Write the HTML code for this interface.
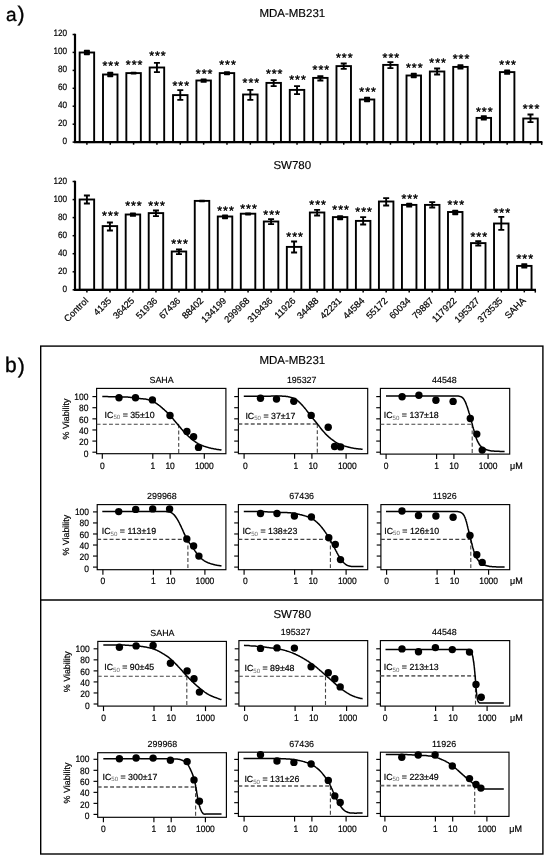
<!DOCTYPE html>
<html lang="en">
<head>
<meta charset="utf-8">
<title>Figure</title>
<style>
html,body{margin:0;padding:0;background:#fff;}
body{width:550px;height:861px;overflow:hidden;}
svg{display:block;font-family:"Liberation Sans", Arial, sans-serif;text-rendering:geometricPrecision;}
.bar{fill:#fff;stroke:#000;stroke-width:1.9;}
.err{fill:none;stroke:#000;stroke-width:1.9;}
.ax{stroke:#000;stroke-width:1.5;}
.axm{fill:none;stroke:#000;stroke-width:2.2;}
.tk{font-size:9.3px;fill:#000;stroke:#000;stroke-width:0.2;}
.xl{font-size:9.3px;fill:#000;stroke:#000;stroke-width:0.2;}
.st{font-size:12.5px;fill:#000;stroke:#000;stroke-width:0.4;letter-spacing:1px;}
.ttl{font-size:11.5px;fill:#000;stroke:#000;stroke-width:0.15;}
.lab{font-size:19px;fill:#000;stroke:#000;stroke-width:0.35;}
.par{font-size:21.2px;}
.box{fill:none;stroke:#000;stroke-width:1.4;}
.fr{fill:none;stroke:#000;stroke-width:1.15;}
.ptk{stroke:#000;stroke-width:1.15;}
.pt{font-size:8.9px;fill:#000;stroke:#000;stroke-width:0.15;}
.da{fill:none;stroke:#444;stroke-width:1.1;stroke-dasharray:3.9 2.3;}
.da1{stroke:#555;stroke-width:1.4;}
.da2{stroke:#6a6a6a;stroke-width:1.7;}
.cv{fill:none;stroke:#000;stroke-width:1.5;stroke-linejoin:round;}
.ic{font-size:8.8px;fill:#000;stroke:#000;stroke-width:0.2;}
.sub{font-size:6.1px;fill:#666;stroke:none;}
</style>
</head>
<body>
<svg width="550" height="861" viewBox="0 0 550 861">
<rect width="550" height="861" fill="#fff"/>
<text x="6.0" y="20.9" class="lab">a<tspan class="par" dx="1.0" dy="-0.3">)</tspan></text>
<text x="292.3" y="16.8" class="ttl" text-anchor="middle">MDA-MB231</text>
<g id="chart1">
<line x1="72.6" y1="142.1" x2="75.0" y2="142.1" class="ax"/>
<text transform="translate(67.1 143.5) scale(0.88 1)" class="tk" text-anchor="end">0</text>
<line x1="72.6" y1="124.2" x2="75.0" y2="124.2" class="ax"/>
<text transform="translate(67.1 125.6) scale(0.88 1)" class="tk" text-anchor="end">20</text>
<line x1="72.6" y1="106.2" x2="75.0" y2="106.2" class="ax"/>
<text transform="translate(67.1 107.6) scale(0.88 1)" class="tk" text-anchor="end">40</text>
<line x1="72.6" y1="88.3" x2="75.0" y2="88.3" class="ax"/>
<text transform="translate(67.1 89.7) scale(0.88 1)" class="tk" text-anchor="end">60</text>
<line x1="72.6" y1="70.4" x2="75.0" y2="70.4" class="ax"/>
<text transform="translate(67.1 71.8) scale(0.88 1)" class="tk" text-anchor="end">80</text>
<line x1="72.6" y1="52.4" x2="75.0" y2="52.4" class="ax"/>
<text transform="translate(67.1 53.8) scale(0.88 1)" class="tk" text-anchor="end">100</text>
<line x1="72.6" y1="34.5" x2="75.0" y2="34.5" class="ax"/>
<text transform="translate(67.1 35.9) scale(0.88 1)" class="tk" text-anchor="end">120</text>
<rect x="79.65" y="52.50" width="14.50" height="89.60" class="bar"/>
<rect x="83.90" y="49.80" width="6" height="5.40" rx="0.6" fill="#000"/>
<line x1="86.90" y1="142.1" x2="86.90" y2="144.7" class="ax"/>
<rect x="103.00" y="74.50" width="14.50" height="67.60" class="bar"/>
<rect x="107.25" y="71.80" width="6" height="5.40" rx="0.6" fill="#000"/>
<text x="111.25" y="69.94" class="st" text-anchor="middle">***</text>
<line x1="110.25" y1="142.1" x2="110.25" y2="144.7" class="ax"/>
<rect x="126.34" y="73.10" width="14.50" height="69.00" class="bar"/>
<rect x="130.59" y="71.80" width="6" height="2.60" rx="0.6" fill="#000"/>
<text x="134.59" y="68.54" class="st" text-anchor="middle">***</text>
<line x1="133.59" y1="142.1" x2="133.59" y2="144.7" class="ax"/>
<rect x="149.69" y="67.50" width="14.50" height="74.60" class="bar"/>
<path d="M156.94 62.90V72.10M153.94 62.90h6M153.94 72.10h6" class="err"/>
<text x="157.94" y="60.34" class="st" text-anchor="middle">***</text>
<line x1="156.94" y1="142.1" x2="156.94" y2="144.7" class="ax"/>
<rect x="173.04" y="95.10" width="14.50" height="47.00" class="bar"/>
<path d="M180.29 90.10V99.90M177.29 90.10h6M177.29 99.90h6" class="err"/>
<text x="181.29" y="89.54" class="st" text-anchor="middle">***</text>
<line x1="180.29" y1="142.1" x2="180.29" y2="144.7" class="ax"/>
<rect x="196.39" y="80.50" width="14.50" height="61.60" class="bar"/>
<rect x="200.64" y="78.40" width="6" height="4.40" rx="0.6" fill="#000"/>
<text x="204.64" y="77.54" class="st" text-anchor="middle">***</text>
<line x1="203.64" y1="142.1" x2="203.64" y2="144.7" class="ax"/>
<rect x="219.73" y="73.10" width="14.50" height="69.00" class="bar"/>
<rect x="223.98" y="71.20" width="6" height="4.00" rx="0.6" fill="#000"/>
<text x="227.98" y="68.54" class="st" text-anchor="middle">***</text>
<line x1="226.98" y1="142.1" x2="226.98" y2="144.7" class="ax"/>
<rect x="243.08" y="94.50" width="14.50" height="47.60" class="bar"/>
<path d="M250.33 89.90V99.90M247.33 89.90h6M247.33 99.90h6" class="err"/>
<text x="251.33" y="86.74" class="st" text-anchor="middle">***</text>
<line x1="250.33" y1="142.1" x2="250.33" y2="144.7" class="ax"/>
<rect x="266.43" y="82.90" width="14.50" height="59.20" class="bar"/>
<path d="M273.68 80.10V86.10M270.68 80.10h6M270.68 86.10h6" class="err"/>
<text x="274.68" y="77.94" class="st" text-anchor="middle">***</text>
<line x1="273.68" y1="142.1" x2="273.68" y2="144.7" class="ax"/>
<rect x="289.78" y="89.90" width="14.50" height="52.20" class="bar"/>
<path d="M297.03 86.10V94.10M294.03 86.10h6M294.03 94.10h6" class="err"/>
<text x="298.03" y="84.34" class="st" text-anchor="middle">***</text>
<line x1="297.03" y1="142.1" x2="297.03" y2="144.7" class="ax"/>
<rect x="313.12" y="77.90" width="14.50" height="64.20" class="bar"/>
<path d="M320.37 76.10V80.50M317.37 76.10h6M317.37 80.50h6" class="err"/>
<text x="321.37" y="73.94" class="st" text-anchor="middle">***</text>
<line x1="320.37" y1="142.1" x2="320.37" y2="144.7" class="ax"/>
<rect x="336.47" y="66.10" width="14.50" height="76.00" class="bar"/>
<path d="M343.72 63.50V68.90M340.72 63.50h6M340.72 68.90h6" class="err"/>
<text x="344.72" y="61.54" class="st" text-anchor="middle">***</text>
<line x1="343.72" y1="142.1" x2="343.72" y2="144.7" class="ax"/>
<rect x="359.82" y="99.50" width="14.50" height="42.60" class="bar"/>
<rect x="364.07" y="96.80" width="6" height="5.40" rx="0.6" fill="#000"/>
<text x="368.07" y="95.54" class="st" text-anchor="middle">***</text>
<line x1="367.07" y1="142.1" x2="367.07" y2="144.7" class="ax"/>
<rect x="383.17" y="64.90" width="14.50" height="77.20" class="bar"/>
<path d="M390.42 62.10V68.10M387.42 62.10h6M387.42 68.10h6" class="err"/>
<text x="391.42" y="61.54" class="st" text-anchor="middle">***</text>
<line x1="390.42" y1="142.1" x2="390.42" y2="144.7" class="ax"/>
<rect x="406.51" y="75.50" width="14.50" height="66.60" class="bar"/>
<rect x="410.76" y="72.80" width="6" height="5.40" rx="0.6" fill="#000"/>
<text x="414.76" y="71.54" class="st" text-anchor="middle">***</text>
<line x1="413.76" y1="142.1" x2="413.76" y2="144.7" class="ax"/>
<rect x="429.86" y="71.50" width="14.50" height="70.60" class="bar"/>
<path d="M437.11 68.50V74.50M434.11 68.50h6M434.11 74.50h6" class="err"/>
<text x="438.11" y="66.54" class="st" text-anchor="middle">***</text>
<line x1="437.11" y1="142.1" x2="437.11" y2="144.7" class="ax"/>
<rect x="453.21" y="66.90" width="14.50" height="75.20" class="bar"/>
<rect x="457.46" y="64.20" width="6" height="5.40" rx="0.6" fill="#000"/>
<text x="461.46" y="63.34" class="st" text-anchor="middle">***</text>
<line x1="460.46" y1="142.1" x2="460.46" y2="144.7" class="ax"/>
<rect x="476.56" y="117.90" width="14.50" height="24.20" class="bar"/>
<rect x="480.81" y="115.20" width="6" height="5.40" rx="0.6" fill="#000"/>
<text x="484.81" y="115.54" class="st" text-anchor="middle">***</text>
<line x1="483.81" y1="142.1" x2="483.81" y2="144.7" class="ax"/>
<rect x="499.90" y="72.10" width="14.50" height="70.00" class="bar"/>
<rect x="504.15" y="69.40" width="6" height="5.40" rx="0.6" fill="#000"/>
<text x="508.15" y="68.54" class="st" text-anchor="middle">***</text>
<line x1="507.15" y1="142.1" x2="507.15" y2="144.7" class="ax"/>
<rect x="523.25" y="118.50" width="14.50" height="23.60" class="bar"/>
<path d="M530.50 114.50V122.10M527.50 114.50h6M527.50 122.10h6" class="err"/>
<text x="531.50" y="113.34" class="st" text-anchor="middle">***</text>
<line x1="530.50" y1="142.1" x2="530.50" y2="144.7" class="ax"/>
<path d="M75.0 33.7V142.1H542.4" class="axm"/>
<line x1="541.7" y1="142.1" x2="541.7" y2="144.9" class="ax"/>
</g>
<text x="292.3" y="169" class="ttl" text-anchor="middle">SW780</text>
<g id="chart2">
<line x1="72.6" y1="289.8" x2="75.0" y2="289.8" class="ax"/>
<text transform="translate(67.1 292.1) scale(0.88 1)" class="tk" text-anchor="end">0</text>
<line x1="72.6" y1="271.8" x2="75.0" y2="271.8" class="ax"/>
<text transform="translate(67.1 274.1) scale(0.88 1)" class="tk" text-anchor="end">20</text>
<line x1="72.6" y1="253.7" x2="75.0" y2="253.7" class="ax"/>
<text transform="translate(67.1 256.0) scale(0.88 1)" class="tk" text-anchor="end">40</text>
<line x1="72.6" y1="235.7" x2="75.0" y2="235.7" class="ax"/>
<text transform="translate(67.1 238.0) scale(0.88 1)" class="tk" text-anchor="end">60</text>
<line x1="72.6" y1="217.6" x2="75.0" y2="217.6" class="ax"/>
<text transform="translate(67.1 219.9) scale(0.88 1)" class="tk" text-anchor="end">80</text>
<line x1="72.6" y1="199.6" x2="75.0" y2="199.6" class="ax"/>
<text transform="translate(67.1 201.9) scale(0.88 1)" class="tk" text-anchor="end">100</text>
<line x1="72.6" y1="181.5" x2="75.0" y2="181.5" class="ax"/>
<text transform="translate(67.1 183.8) scale(0.88 1)" class="tk" text-anchor="end">120</text>
<rect x="79.65" y="199.50" width="14.50" height="90.30" class="bar"/>
<path d="M86.90 195.50V203.50M83.90 195.50h6M83.90 203.50h6" class="err"/>
<line x1="86.90" y1="289.8" x2="86.90" y2="292.4" class="ax"/>
<text transform="translate(88.90 301.30) rotate(-45)" class="xl" text-anchor="end">Control</text>
<rect x="102.67" y="226.10" width="14.50" height="63.70" class="bar"/>
<path d="M109.92 222.50V230.50M106.92 222.50h6M106.92 230.50h6" class="err"/>
<text x="110.92" y="220.34" class="st" text-anchor="middle">***</text>
<line x1="109.92" y1="289.8" x2="109.92" y2="292.4" class="ax"/>
<text transform="translate(111.92 301.30) rotate(-45)" class="xl" text-anchor="end">4135</text>
<rect x="125.69" y="214.50" width="14.50" height="75.30" class="bar"/>
<rect x="129.94" y="212.40" width="6" height="4.40" rx="0.6" fill="#000"/>
<text x="133.94" y="210.34" class="st" text-anchor="middle">***</text>
<line x1="132.94" y1="289.8" x2="132.94" y2="292.4" class="ax"/>
<text transform="translate(134.94 301.30) rotate(-45)" class="xl" text-anchor="end">36425</text>
<rect x="148.71" y="213.10" width="14.50" height="76.70" class="bar"/>
<path d="M155.96 210.50V216.10M152.96 210.50h6M152.96 216.10h6" class="err"/>
<text x="156.96" y="209.94" class="st" text-anchor="middle">***</text>
<line x1="155.96" y1="289.8" x2="155.96" y2="292.4" class="ax"/>
<text transform="translate(157.96 301.30) rotate(-45)" class="xl" text-anchor="end">51936</text>
<rect x="171.73" y="251.50" width="14.50" height="38.30" class="bar"/>
<path d="M178.98 249.50V254.10M175.98 249.50h6M175.98 254.10h6" class="err"/>
<text x="179.98" y="247.54" class="st" text-anchor="middle">***</text>
<line x1="178.98" y1="289.8" x2="178.98" y2="292.4" class="ax"/>
<text transform="translate(180.98 301.30) rotate(-45)" class="xl" text-anchor="end">67436</text>
<rect x="194.76" y="200.90" width="14.50" height="88.90" class="bar"/>
<rect x="199.01" y="199.80" width="6" height="2.40" rx="0.6" fill="#000"/>
<line x1="202.01" y1="289.8" x2="202.01" y2="292.4" class="ax"/>
<text transform="translate(204.01 301.30) rotate(-45)" class="xl" text-anchor="end">88402</text>
<rect x="217.78" y="216.50" width="14.50" height="73.30" class="bar"/>
<rect x="222.03" y="214.40" width="6" height="4.80" rx="0.6" fill="#000"/>
<text x="226.03" y="214.54" class="st" text-anchor="middle">***</text>
<line x1="225.03" y1="289.8" x2="225.03" y2="292.4" class="ax"/>
<text transform="translate(227.03 301.30) rotate(-45)" class="xl" text-anchor="end">134199</text>
<rect x="240.80" y="213.70" width="14.50" height="76.10" class="bar"/>
<rect x="245.05" y="212.40" width="6" height="3.00" rx="0.6" fill="#000"/>
<text x="249.05" y="212.94" class="st" text-anchor="middle">***</text>
<line x1="248.05" y1="289.8" x2="248.05" y2="292.4" class="ax"/>
<text transform="translate(250.05 301.30) rotate(-45)" class="xl" text-anchor="end">299968</text>
<rect x="263.82" y="221.50" width="14.50" height="68.30" class="bar"/>
<path d="M271.07 219.10V224.10M268.07 219.10h6M268.07 224.10h6" class="err"/>
<text x="272.07" y="218.54" class="st" text-anchor="middle">***</text>
<line x1="271.07" y1="289.8" x2="271.07" y2="292.4" class="ax"/>
<text transform="translate(273.07 301.30) rotate(-45)" class="xl" text-anchor="end">319436</text>
<rect x="286.84" y="246.90" width="14.50" height="42.90" class="bar"/>
<path d="M294.09 241.50V252.50M291.09 241.50h6M291.09 252.50h6" class="err"/>
<text x="295.09" y="240.54" class="st" text-anchor="middle">***</text>
<line x1="294.09" y1="289.8" x2="294.09" y2="292.4" class="ax"/>
<text transform="translate(296.09 301.30) rotate(-45)" class="xl" text-anchor="end">11926</text>
<rect x="309.86" y="212.50" width="14.50" height="77.30" class="bar"/>
<path d="M317.11 209.90V215.50M314.11 209.90h6M314.11 215.50h6" class="err"/>
<text x="318.11" y="209.34" class="st" text-anchor="middle">***</text>
<line x1="317.11" y1="289.8" x2="317.11" y2="292.4" class="ax"/>
<text transform="translate(319.11 301.30) rotate(-45)" class="xl" text-anchor="end">34488</text>
<rect x="332.88" y="217.10" width="14.50" height="72.70" class="bar"/>
<rect x="337.13" y="215.20" width="6" height="5.00" rx="0.6" fill="#000"/>
<text x="341.13" y="214.34" class="st" text-anchor="middle">***</text>
<line x1="340.13" y1="289.8" x2="340.13" y2="292.4" class="ax"/>
<text transform="translate(342.13 301.30) rotate(-45)" class="xl" text-anchor="end">42231</text>
<rect x="355.90" y="220.90" width="14.50" height="68.90" class="bar"/>
<path d="M363.15 217.10V224.50M360.15 217.10h6M360.15 224.50h6" class="err"/>
<text x="364.15" y="216.34" class="st" text-anchor="middle">***</text>
<line x1="363.15" y1="289.8" x2="363.15" y2="292.4" class="ax"/>
<text transform="translate(365.15 301.30) rotate(-45)" class="xl" text-anchor="end">44584</text>
<rect x="378.92" y="201.50" width="14.50" height="88.30" class="bar"/>
<path d="M386.17 198.10V205.50M383.17 198.10h6M383.17 205.50h6" class="err"/>
<line x1="386.17" y1="289.8" x2="386.17" y2="292.4" class="ax"/>
<text transform="translate(388.17 301.30) rotate(-45)" class="xl" text-anchor="end">55172</text>
<rect x="401.94" y="204.90" width="14.50" height="84.90" class="bar"/>
<rect x="406.19" y="202.80" width="6" height="4.80" rx="0.6" fill="#000"/>
<text x="410.19" y="202.94" class="st" text-anchor="middle">***</text>
<line x1="409.19" y1="289.8" x2="409.19" y2="292.4" class="ax"/>
<text transform="translate(411.19 301.30) rotate(-45)" class="xl" text-anchor="end">60034</text>
<rect x="424.97" y="204.90" width="14.50" height="84.90" class="bar"/>
<path d="M432.22 202.10V207.50M429.22 202.10h6M429.22 207.50h6" class="err"/>
<line x1="432.22" y1="289.8" x2="432.22" y2="292.4" class="ax"/>
<text transform="translate(434.22 301.30) rotate(-45)" class="xl" text-anchor="end">79887</text>
<rect x="447.99" y="212.00" width="14.50" height="77.80" class="bar"/>
<rect x="452.24" y="209.80" width="6" height="5.40" rx="0.6" fill="#000"/>
<text x="456.24" y="209.34" class="st" text-anchor="middle">***</text>
<line x1="455.24" y1="289.8" x2="455.24" y2="292.4" class="ax"/>
<text transform="translate(457.24 301.30) rotate(-45)" class="xl" text-anchor="end">117922</text>
<rect x="471.01" y="243.10" width="14.50" height="46.70" class="bar"/>
<path d="M478.26 241.10V245.50M475.26 241.10h6M475.26 245.50h6" class="err"/>
<text x="479.26" y="240.54" class="st" text-anchor="middle">***</text>
<line x1="478.26" y1="289.8" x2="478.26" y2="292.4" class="ax"/>
<text transform="translate(480.26 301.30) rotate(-45)" class="xl" text-anchor="end">195327</text>
<rect x="494.03" y="223.50" width="14.50" height="66.30" class="bar"/>
<path d="M501.28 216.90V229.90M498.28 216.90h6M498.28 229.90h6" class="err"/>
<text x="502.28" y="216.94" class="st" text-anchor="middle">***</text>
<line x1="501.28" y1="289.8" x2="501.28" y2="292.4" class="ax"/>
<text transform="translate(503.28 301.30) rotate(-45)" class="xl" text-anchor="end">373535</text>
<rect x="517.05" y="265.90" width="14.50" height="23.90" class="bar"/>
<rect x="521.30" y="263.20" width="6" height="5.40" rx="0.6" fill="#000"/>
<text x="525.30" y="263.34" class="st" text-anchor="middle">***</text>
<line x1="524.30" y1="289.8" x2="524.30" y2="292.4" class="ax"/>
<text transform="translate(526.30 301.30) rotate(-45)" class="xl" text-anchor="end">SAHA</text>
<path d="M75.0 180.7V289.8H536.0" class="axm"/>
<line x1="535.3" y1="289.8" x2="535.3" y2="292.6" class="ax"/>
</g>
<text x="5.0" y="372.4" class="lab" style="font-size:21px">b<tspan class="par" dx="1.0" dy="0.2">)</tspan></text>
<rect x="40.7" y="346.1" width="502.2" height="507.9" class="box"/>
<line x1="40.7" y1="600.0" x2="542.7" y2="600.0" class="box"/>
<text x="292.3" y="364.4" class="ttl" text-anchor="middle">MDA-MB231</text>
<text x="292.3" y="618" class="ttl" text-anchor="middle">SW780</text>
<g id="p00">
<rect x="96.6" y="388.4" width="129.3" height="65.3" class="fr"/>
<line x1="92.4" y1="452.20" x2="96.6" y2="452.20" class="ptk"/>
<text transform="translate(88.4 456.8) scale(0.91 1)" class="tk" text-anchor="end">0</text>
<line x1="92.4" y1="441.08" x2="96.6" y2="441.08" class="ptk"/>
<text transform="translate(88.4 445.4) scale(0.91 1)" class="tk" text-anchor="end">20</text>
<line x1="92.4" y1="429.96" x2="96.6" y2="429.96" class="ptk"/>
<text transform="translate(88.4 433.9) scale(0.91 1)" class="tk" text-anchor="end">40</text>
<line x1="92.4" y1="418.84" x2="96.6" y2="418.84" class="ptk"/>
<text transform="translate(88.4 422.5) scale(0.91 1)" class="tk" text-anchor="end">60</text>
<line x1="92.4" y1="407.72" x2="96.6" y2="407.72" class="ptk"/>
<text transform="translate(88.4 411.0) scale(0.91 1)" class="tk" text-anchor="end">80</text>
<line x1="92.4" y1="396.60" x2="96.6" y2="396.60" class="ptk"/>
<text transform="translate(88.4 399.6) scale(0.91 1)" class="tk" text-anchor="end">100</text>
<text transform="translate(68.6 419.0) rotate(-90)" class="tk" style="font-size:8.9px" text-anchor="middle">% Viability</text>
<line x1="102.3" y1="453.7" x2="102.3" y2="458.7" class="ptk"/>
<text transform="translate(102.3 468.6) scale(0.91 1)" class="tk" text-anchor="middle">0</text>
<line x1="152.8" y1="453.7" x2="152.8" y2="458.7" class="ptk"/>
<text transform="translate(152.8 468.6) scale(0.91 1)" class="tk" text-anchor="middle">1</text>
<line x1="170.1" y1="453.7" x2="170.1" y2="458.7" class="ptk"/>
<text transform="translate(170.1 468.6) scale(0.91 1)" class="tk" text-anchor="middle">10</text>
<line x1="204.3" y1="453.7" x2="204.3" y2="458.7" class="ptk"/>
<text transform="translate(204.3 468.6) scale(0.91 1)" class="tk" text-anchor="middle">1000</text>
<text x="161.6" y="382.7" class="pt" text-anchor="middle">SAHA</text>
<path d="M96.6 424.3H178.7" class="da"/>
<path d="M178.7 424.3V453.7" class="da"/>
<path d="M102.3 396.6L103.2 396.6L104.3 396.6L105.7 396.6L107.2 396.6L108.8 396.7L110.5 396.7L112.3 396.7L114.0 396.7L115.7 396.7L117.3 396.7L118.7 396.8L120.0 396.8L121.1 396.8L122.1 396.9L123.1 396.9L124.0 396.9L124.8 397.0L125.6 397.0L126.4 397.0L127.1 397.1L127.8 397.1L128.5 397.2L129.3 397.2L130.0 397.3L130.7 397.4L131.4 397.5L132.1 397.5L132.8 397.6L133.5 397.7L134.1 397.8L134.8 397.9L135.4 398.0L136.0 398.1L136.7 398.2L137.3 398.3L138.0 398.4L138.7 398.5L139.4 398.6L140.1 398.6L140.8 398.7L141.5 398.7L142.2 398.8L142.9 398.8L143.6 398.9L144.2 398.9L144.9 399.0L145.6 399.1L146.2 399.2L146.8 399.4L147.4 399.5L147.9 399.6L148.5 399.8L149.0 399.9L149.6 400.1L150.1 400.3L150.6 400.5L151.1 400.7L151.7 400.9L152.2 401.1L152.7 401.4L153.3 401.6L153.8 401.9L154.4 402.2L154.9 402.5L155.5 402.8L156.0 403.2L156.5 403.5L157.1 403.9L157.6 404.3L158.2 404.7L158.7 405.1L159.3 405.5L159.8 405.9L160.4 406.3L160.9 406.8L161.5 407.3L162.1 407.8L162.6 408.3L163.2 408.8L163.8 409.3L164.3 409.8L164.8 410.3L165.3 410.7L165.8 411.2L166.3 411.6L166.7 412.0L167.2 412.5L167.6 412.9L168.0 413.3L168.4 413.7L168.8 414.1L169.2 414.5L169.6 414.9L170.0 415.3L170.4 415.7L170.7 416.1L171.1 416.5L171.5 416.9L171.8 417.3L172.2 417.7L172.5 418.1L172.8 418.5L173.2 419.0L173.5 419.4L173.8 419.8L174.1 420.2L174.5 420.6L174.8 421.0L175.2 421.4L175.5 421.8L175.8 422.2L176.2 422.6L176.5 423.0L176.8 423.4L177.1 423.8L177.5 424.2L177.8 424.6L178.2 425.0L178.5 425.5L178.9 425.9L179.3 426.4L179.7 426.8L180.1 427.3L180.5 427.8L180.9 428.3L181.3 428.8L181.7 429.3L182.2 429.8L182.6 430.2L183.0 430.7L183.4 431.2L183.8 431.6L184.2 432.1L184.6 432.5L185.0 432.9L185.5 433.4L185.9 433.8L186.3 434.2L186.7 434.6L187.1 435.0L187.5 435.4L187.9 435.8L188.3 436.2L188.7 436.5L189.1 436.9L189.5 437.3L190.0 437.6L190.4 438.0L190.8 438.4L191.2 438.7L191.6 439.0L192.0 439.4L192.4 439.7L192.8 440.0L193.2 440.3L193.6 440.6L194.0 440.9L194.5 441.2L194.9 441.5L195.3 441.8L195.7 442.1L196.1 442.4L196.5 442.7L196.9 442.9L197.3 443.2L197.7 443.4L198.1 443.7L198.5 443.9L199.0 444.1L199.3 444.3L199.7 444.5L200.1 444.7L200.5 444.9L200.9 445.1L201.3 445.2L201.7 445.4L202.1 445.5L202.5 445.7L203.0 445.9L203.5 446.0L203.9 446.2L204.5 446.4L205.0 446.6L205.5 446.7L206.1 446.9L206.6 447.1L207.2 447.2L207.8 447.4L208.3 447.6L208.9 447.7L209.5 447.9L210.0 448.0L210.6 448.1L211.1 448.3L211.7 448.4L212.2 448.5L212.8 448.6L213.4 448.7L213.9 448.8L214.5 448.9L215.0 449.0L215.6 449.1L216.1 449.2L216.5 449.3L217.0 449.4L217.5 449.5L218.0 449.5L218.5 449.6L219.0 449.7L219.4 449.7L219.8 449.8L220.2 449.8L220.6 449.9L220.9 449.9L221.2 449.9L221.5 450.0" class="cv"/>
<circle cx="119.0" cy="397.7" r="3.7"/>
<circle cx="135.5" cy="397.7" r="3.7"/>
<circle cx="152.4" cy="399.9" r="3.7"/>
<circle cx="170.0" cy="415.5" r="3.7"/>
<circle cx="186.9" cy="431.4" r="3.7"/>
<circle cx="193.6" cy="436.8" r="3.7"/>
<circle cx="198.5" cy="447.4" r="3.7"/>
<text x="104.6" y="417.7" class="ic">IC<tspan class="sub" dy="1.5">50</tspan><tspan dy="-1.5"> = 35±10</tspan></text>
</g>
<g id="p01">
<rect x="238.4" y="388.4" width="129.3" height="65.3" class="fr"/>
<line x1="234.2" y1="452.20" x2="238.4" y2="452.20" class="ptk"/>
<line x1="234.2" y1="441.08" x2="238.4" y2="441.08" class="ptk"/>
<line x1="234.2" y1="429.96" x2="238.4" y2="429.96" class="ptk"/>
<line x1="234.2" y1="418.84" x2="238.4" y2="418.84" class="ptk"/>
<line x1="234.2" y1="407.72" x2="238.4" y2="407.72" class="ptk"/>
<line x1="234.2" y1="396.60" x2="238.4" y2="396.60" class="ptk"/>
<line x1="244.1" y1="453.7" x2="244.1" y2="458.7" class="ptk"/>
<text transform="translate(245.3 468.6) scale(0.91 1)" class="tk" text-anchor="middle">0</text>
<line x1="294.6" y1="453.7" x2="294.6" y2="458.7" class="ptk"/>
<text transform="translate(295.8 468.6) scale(0.91 1)" class="tk" text-anchor="middle">1</text>
<line x1="311.9" y1="453.7" x2="311.9" y2="458.7" class="ptk"/>
<text transform="translate(313.1 468.6) scale(0.91 1)" class="tk" text-anchor="middle">10</text>
<line x1="346.1" y1="453.7" x2="346.1" y2="458.7" class="ptk"/>
<text transform="translate(347.3 468.6) scale(0.91 1)" class="tk" text-anchor="middle">1000</text>
<text x="301.7" y="382.7" class="pt" text-anchor="middle">195327</text>
<path d="M238.4 424.0H317.3" class="da da1"/>
<path d="M317.3 424.0V453.7" class="da"/>
<path d="M243.8 396.2L244.7 396.2L245.8 396.2L247.1 396.2L248.5 396.2L250.1 396.2L251.8 396.2L253.5 396.2L255.3 396.2L257.0 396.2L258.8 396.2L260.4 396.2L262.0 396.2L263.5 396.2L265.1 396.2L266.8 396.2L268.4 396.2L270.1 396.2L271.7 396.1L273.3 396.1L274.9 396.1L276.3 396.1L277.7 396.1L278.9 396.1L280.0 396.1L280.9 396.1L281.8 396.1L282.4 396.2L283.0 396.2L283.5 396.2L284.0 396.2L284.4 396.2L284.8 396.2L285.2 396.3L285.6 396.3L286.0 396.4L286.5 396.5L287.1 396.5L287.7 396.6L288.2 396.7L288.8 396.9L289.4 397.0L289.9 397.1L290.5 397.3L291.0 397.4L291.6 397.6L292.1 397.7L292.6 397.9L293.1 398.1L293.6 398.3L294.0 398.5L294.4 398.7L294.8 398.9L295.3 399.1L295.6 399.4L296.0 399.6L296.4 399.9L296.8 400.1L297.2 400.4L297.6 400.7L298.0 401.0L298.4 401.4L298.8 401.7L299.2 402.1L299.6 402.5L300.0 402.9L300.5 403.3L300.9 403.7L301.3 404.2L301.7 404.6L302.1 405.0L302.5 405.5L302.9 405.9L303.3 406.4L303.7 406.9L304.1 407.4L304.5 407.9L305.0 408.4L305.4 408.9L305.8 409.4L306.2 409.9L306.6 410.4L307.0 411.0L307.4 411.5L307.8 412.0L308.2 412.5L308.6 413.0L309.0 413.5L309.5 414.1L309.9 414.6L310.3 415.1L310.7 415.6L311.1 416.2L311.5 416.7L311.9 417.2L312.3 417.7L312.7 418.2L313.1 418.7L313.5 419.2L314.0 419.7L314.4 420.2L314.8 420.7L315.2 421.2L315.6 421.7L316.0 422.2L316.4 422.8L316.8 423.3L317.2 423.8L317.6 424.3L318.0 424.8L318.5 425.3L318.9 425.8L319.3 426.4L319.7 426.9L320.1 427.4L320.5 428.0L320.9 428.5L321.3 429.0L321.7 429.5L322.1 430.0L322.5 430.5L323.0 431.0L323.4 431.4L323.8 431.9L324.2 432.4L324.6 432.8L325.0 433.2L325.4 433.7L325.8 434.1L326.2 434.5L326.6 434.9L327.0 435.3L327.5 435.7L327.9 436.1L328.3 436.5L328.7 436.9L329.1 437.2L329.5 437.6L329.9 437.9L330.3 438.2L330.7 438.6L331.1 438.9L331.5 439.2L332.0 439.5L332.4 439.8L332.8 440.1L333.2 440.4L333.6 440.7L334.0 441.0L334.4 441.3L334.8 441.6L335.2 441.9L335.6 442.1L336.0 442.4L336.5 442.6L336.9 442.9L337.3 443.1L337.7 443.3L338.1 443.5L338.5 443.7L338.8 443.9L339.2 444.1L339.6 444.2L340.0 444.4L340.4 444.6L340.8 444.7L341.3 444.9L341.7 445.1L342.2 445.2L342.7 445.4L343.2 445.6L343.7 445.7L344.2 445.9L344.8 446.1L345.4 446.3L345.9 446.4L346.5 446.6L347.1 446.7L347.6 446.9L348.2 447.0L348.7 447.2L349.3 447.3L349.8 447.4L350.3 447.6L350.9 447.7L351.4 447.8L352.0 447.9L352.5 448.0L353.0 448.1L353.6 448.2L354.1 448.3L354.7 448.4L355.3 448.5L355.9 448.6L356.5 448.7L357.2 448.8L357.9 448.8L358.7 448.9L359.4 449.0L360.1 449.1L360.7 449.1L361.3 449.2L361.8 449.2L362.3 449.3L362.6 449.3" class="cv"/>
<circle cx="260.5" cy="398.3" r="3.7"/>
<circle cx="276.5" cy="399.1" r="3.7"/>
<circle cx="293.8" cy="401.2" r="3.7"/>
<circle cx="311.2" cy="415.4" r="3.7"/>
<circle cx="328.2" cy="427.2" r="3.7"/>
<circle cx="334.6" cy="446.5" r="3.7"/>
<circle cx="340.6" cy="446.9" r="3.7"/>
<text x="245.4" y="418.6" class="ic">IC<tspan class="sub" dy="1.5">50</tspan><tspan dy="-1.5"> = 37±17</tspan></text>
</g>
<g id="p02">
<rect x="380.4" y="388.4" width="129.3" height="65.7" class="fr"/>
<line x1="376.2" y1="452.20" x2="380.4" y2="452.20" class="ptk"/>
<line x1="376.2" y1="441.08" x2="380.4" y2="441.08" class="ptk"/>
<line x1="376.2" y1="429.96" x2="380.4" y2="429.96" class="ptk"/>
<line x1="376.2" y1="418.84" x2="380.4" y2="418.84" class="ptk"/>
<line x1="376.2" y1="407.72" x2="380.4" y2="407.72" class="ptk"/>
<line x1="376.2" y1="396.60" x2="380.4" y2="396.60" class="ptk"/>
<line x1="386.1" y1="454.1" x2="386.1" y2="459.1" class="ptk"/>
<text transform="translate(386.1 468.6) scale(0.91 1)" class="tk" text-anchor="middle">0</text>
<line x1="436.6" y1="454.1" x2="436.6" y2="459.1" class="ptk"/>
<text transform="translate(436.6 468.6) scale(0.91 1)" class="tk" text-anchor="middle">1</text>
<line x1="453.9" y1="454.1" x2="453.9" y2="459.1" class="ptk"/>
<text transform="translate(453.9 468.6) scale(0.91 1)" class="tk" text-anchor="middle">10</text>
<line x1="488.1" y1="454.1" x2="488.1" y2="459.1" class="ptk"/>
<text transform="translate(488.1 468.6) scale(0.91 1)" class="tk" text-anchor="middle">1000</text>
<text transform="translate(510.0 468.6) scale(0.97 1)" class="tk">μM</text>
<text x="444.4" y="382.7" class="pt" text-anchor="middle">44548</text>
<path d="M380.4 424.2H472.2" class="da"/>
<path d="M472.2 424.2V454.1" class="da"/>
<path d="M386.0 396.1L387.2 396.1L388.8 396.1L390.6 396.1L392.7 396.1L394.9 396.1L397.2 396.1L399.6 396.1L402.0 396.1L404.3 396.1L406.4 396.1L408.3 396.1L410.0 396.1L411.4 396.1L412.6 396.1L413.7 396.1L414.6 396.1L415.5 396.1L416.3 396.1L417.1 396.1L417.9 396.1L418.7 396.1L419.7 396.1L420.8 396.1L422.0 396.1L423.4 396.1L424.9 396.1L426.5 396.1L428.2 396.1L430.0 396.1L431.8 396.1L433.5 396.1L435.3 396.1L437.0 396.1L438.7 396.1L440.2 396.1L441.6 396.1L443.0 396.1L444.3 396.1L445.6 396.1L446.8 396.1L448.0 396.1L449.1 396.1L450.2 396.1L451.2 396.1L452.2 396.1L453.1 396.1L453.9 396.1L454.7 396.1L455.4 396.1L456.0 396.1L456.6 396.1L457.0 396.1L457.4 396.1L457.8 396.1L458.1 396.1L458.4 396.1L458.7 396.1L459.0 396.2L459.3 396.2L459.6 396.3L460.0 396.4L460.3 396.5L460.6 396.6L460.9 396.7L461.2 396.8L461.4 396.9L461.7 397.1L461.9 397.3L462.2 397.4L462.4 397.6L462.7 397.9L462.9 398.1L463.1 398.3L463.4 398.6L463.6 398.9L463.8 399.2L464.0 399.5L464.2 399.8L464.4 400.2L464.6 400.6L464.8 400.9L465.0 401.3L465.2 401.7L465.4 402.2L465.6 402.6L465.8 403.1L466.0 403.6L466.2 404.1L466.4 404.7L466.6 405.2L466.8 405.8L467.0 406.3L467.2 406.9L467.4 407.5L467.6 408.1L467.8 408.7L468.0 409.3L468.2 410.0L468.4 410.6L468.6 411.3L468.8 412.0L469.0 412.7L469.3 413.4L469.5 414.1L469.7 414.8L469.9 415.5L470.1 416.2L470.3 416.9L470.5 417.6L470.7 418.4L470.9 419.1L471.1 419.8L471.3 420.6L471.5 421.4L471.7 422.1L471.9 422.9L472.1 423.6L472.3 424.4L472.5 425.2L472.7 425.9L472.9 426.7L473.1 427.4L473.3 428.2L473.5 429.0L473.8 429.8L474.0 430.6L474.2 431.3L474.4 432.1L474.6 432.8L474.8 433.6L475.0 434.2L475.2 434.9L475.4 435.5L475.6 436.2L475.8 436.8L476.0 437.3L476.2 437.9L476.4 438.4L476.6 439.0L476.8 439.5L477.0 440.0L477.2 440.5L477.4 441.0L477.6 441.5L477.9 441.9L478.1 442.4L478.4 442.8L478.6 443.3L478.9 443.7L479.2 444.1L479.4 444.6L479.7 444.9L480.0 445.3L480.3 445.7L480.6 446.0L480.9 446.4L481.2 446.7L481.5 447.0L481.8 447.2L482.2 447.5L482.5 447.7L482.8 448.0L483.1 448.2L483.5 448.4L483.8 448.6L484.2 448.8L484.6 449.0L485.0 449.1L485.4 449.3L485.9 449.5L486.3 449.7L486.8 449.8L487.2 450.0L487.7 450.1L488.2 450.2L488.7 450.4L489.2 450.5L489.7 450.6L490.2 450.7L490.7 450.8L491.2 450.9L491.8 450.9L492.3 451.0L492.8 451.0L493.4 451.1L493.9 451.1L494.4 451.2L495.0 451.2L495.6 451.2L496.1 451.2L496.7 451.2L497.3 451.3L497.9 451.3L498.5 451.3L499.2 451.3L499.9 451.4L500.7 451.4L501.4 451.4L502.1 451.4L502.7 451.4L503.3 451.4L503.8 451.4L504.3 451.4L504.6 451.4" class="cv"/>
<circle cx="402.1" cy="396.8" r="3.7"/>
<circle cx="418.9" cy="395.2" r="3.7"/>
<circle cx="435.9" cy="400.2" r="3.7"/>
<circle cx="453.1" cy="401.4" r="3.7"/>
<circle cx="470.3" cy="418.5" r="3.7"/>
<circle cx="476.8" cy="434.1" r="3.7"/>
<circle cx="482.2" cy="450.1" r="3.7"/>
<text x="383.8" y="418.0" class="ic">IC<tspan class="sub" dy="1.5">50</tspan><tspan dy="-1.5"> = 137±18</tspan></text>
</g>
<g id="p10">
<rect x="97.2" y="504.6" width="128.7" height="65.1" class="fr"/>
<line x1="93.0" y1="567.10" x2="97.2" y2="567.10" class="ptk"/>
<text transform="translate(89.0 571.7) scale(0.91 1)" class="tk" text-anchor="end">0</text>
<line x1="93.0" y1="556.06" x2="97.2" y2="556.06" class="ptk"/>
<text transform="translate(89.0 560.3) scale(0.91 1)" class="tk" text-anchor="end">20</text>
<line x1="93.0" y1="545.02" x2="97.2" y2="545.02" class="ptk"/>
<text transform="translate(89.0 549.0) scale(0.91 1)" class="tk" text-anchor="end">40</text>
<line x1="93.0" y1="533.98" x2="97.2" y2="533.98" class="ptk"/>
<text transform="translate(89.0 537.6) scale(0.91 1)" class="tk" text-anchor="end">60</text>
<line x1="93.0" y1="522.94" x2="97.2" y2="522.94" class="ptk"/>
<text transform="translate(89.0 526.3) scale(0.91 1)" class="tk" text-anchor="end">80</text>
<line x1="93.0" y1="511.90" x2="97.2" y2="511.90" class="ptk"/>
<text transform="translate(89.0 514.9) scale(0.91 1)" class="tk" text-anchor="end">100</text>
<text transform="translate(69.2 535.2) rotate(-90)" class="tk" style="font-size:8.9px" text-anchor="middle">% Viability</text>
<line x1="102.9" y1="569.7" x2="102.9" y2="574.7" class="ptk"/>
<text transform="translate(102.9 584.3) scale(0.91 1)" class="tk" text-anchor="middle">0</text>
<line x1="153.4" y1="569.7" x2="153.4" y2="574.7" class="ptk"/>
<text transform="translate(153.4 584.3) scale(0.91 1)" class="tk" text-anchor="middle">1</text>
<line x1="170.7" y1="569.7" x2="170.7" y2="574.7" class="ptk"/>
<text transform="translate(170.7 584.3) scale(0.91 1)" class="tk" text-anchor="middle">10</text>
<line x1="204.9" y1="569.7" x2="204.9" y2="574.7" class="ptk"/>
<text transform="translate(204.9 584.3) scale(0.91 1)" class="tk" text-anchor="middle">1000</text>
<text x="161.9" y="498.9" class="pt" text-anchor="middle">299968</text>
<path d="M97.2 539.4H187.9" class="da"/>
<path d="M187.9 539.4V569.7" class="da"/>
<path d="M102.3 511.6L103.2 511.6L104.2 511.6L105.5 511.6L106.9 511.6L108.4 511.6L110.0 511.6L111.7 511.6L113.4 511.6L115.1 511.6L116.8 511.6L118.5 511.6L120.0 511.6L121.5 511.6L123.0 511.6L124.5 511.6L126.0 511.6L127.6 511.6L129.1 511.6L130.6 511.6L132.1 511.6L133.6 511.6L135.1 511.6L136.6 511.6L138.0 511.6L139.4 511.6L140.9 511.6L142.3 511.6L143.7 511.6L145.1 511.6L146.5 511.6L147.9 511.6L149.2 511.6L150.5 511.6L151.8 511.6L153.1 511.6L154.4 511.6L155.6 511.6L156.8 511.6L158.1 511.6L159.3 511.6L160.5 511.6L161.7 511.6L162.8 511.6L163.9 511.6L164.9 511.6L165.8 511.6L166.7 511.7L167.5 511.7L168.1 511.8L168.7 511.8L169.1 511.9L169.5 511.9L169.8 512.0L170.1 512.1L170.4 512.2L170.6 512.3L170.8 512.4L171.0 512.5L171.3 512.6L171.5 512.8L171.8 513.0L172.1 513.1L172.4 513.3L172.7 513.6L173.0 513.8L173.2 514.0L173.5 514.3L173.8 514.5L174.0 514.8L174.3 515.1L174.5 515.4L174.8 515.7L175.1 516.1L175.4 516.4L175.6 516.8L175.9 517.2L176.2 517.6L176.5 518.0L176.7 518.4L177.0 518.8L177.3 519.2L177.5 519.7L177.8 520.2L178.1 520.6L178.4 521.1L178.6 521.6L178.9 522.1L179.2 522.7L179.5 523.2L179.7 523.8L180.0 524.3L180.3 524.9L180.5 525.5L180.8 526.0L181.1 526.6L181.4 527.2L181.6 527.8L181.9 528.4L182.2 529.0L182.5 529.7L182.8 530.3L183.1 531.0L183.3 531.6L183.6 532.2L183.9 532.9L184.1 533.5L184.4 534.0L184.6 534.5L184.9 535.0L185.1 535.5L185.3 535.9L185.5 536.4L185.7 536.8L185.9 537.2L186.1 537.5L186.2 537.9L186.4 538.3L186.6 538.7L186.9 539.1L187.1 539.5L187.3 539.9L187.6 540.3L187.8 540.7L188.1 541.1L188.4 541.5L188.6 541.9L188.9 542.3L189.2 542.7L189.5 543.1L189.8 543.5L190.1 543.9L190.4 544.4L190.7 544.8L191.0 545.3L191.3 545.7L191.7 546.2L192.0 546.7L192.4 547.2L192.7 547.7L193.1 548.2L193.4 548.6L193.8 549.1L194.1 549.6L194.5 550.1L194.8 550.6L195.1 551.1L195.5 551.6L195.8 552.0L196.1 552.5L196.4 553.0L196.8 553.5L197.1 554.0L197.5 554.5L197.8 554.9L198.2 555.4L198.5 555.8L198.9 556.2L199.3 556.7L199.7 557.1L200.1 557.5L200.5 557.8L201.0 558.2L201.4 558.6L201.8 558.9L202.2 559.3L202.6 559.6L203.0 559.9L203.5 560.2L203.9 560.5L204.3 560.8L204.6 561.0L205.0 561.3L205.4 561.5L205.8 561.7L206.2 561.9L206.6 562.1L207.0 562.3L207.5 562.5L207.9 562.7L208.4 562.9L208.9 563.0L209.4 563.2L209.9 563.4L210.4 563.6L211.0 563.8L211.5 563.9L212.1 564.1L212.7 564.2L213.2 564.4L213.8 564.5L214.4 564.7L214.9 564.8L215.5 564.9L216.1 565.1L216.7 565.2L217.3 565.3L218.0 565.4L218.6 565.5L219.2 565.6L219.8 565.7L220.3 565.8L220.7 565.8L221.1 565.9L221.5 566.0" class="cv"/>
<circle cx="118.7" cy="511.6" r="3.7"/>
<circle cx="135.7" cy="509.4" r="3.7"/>
<circle cx="152.7" cy="508.9" r="3.7"/>
<circle cx="169.6" cy="508.9" r="3.7"/>
<circle cx="186.8" cy="539.0" r="3.7"/>
<circle cx="193.6" cy="546.0" r="3.7"/>
<circle cx="198.9" cy="556.1" r="3.7"/>
<text x="101.8" y="534.0" class="ic">IC<tspan class="sub" dy="1.5">50</tspan><tspan dy="-1.5"> = 113±19</tspan></text>
</g>
<g id="p11">
<rect x="238.4" y="504.6" width="129.3" height="65.1" class="fr"/>
<line x1="234.2" y1="567.10" x2="238.4" y2="567.10" class="ptk"/>
<line x1="234.2" y1="556.06" x2="238.4" y2="556.06" class="ptk"/>
<line x1="234.2" y1="545.02" x2="238.4" y2="545.02" class="ptk"/>
<line x1="234.2" y1="533.98" x2="238.4" y2="533.98" class="ptk"/>
<line x1="234.2" y1="522.94" x2="238.4" y2="522.94" class="ptk"/>
<line x1="234.2" y1="511.90" x2="238.4" y2="511.90" class="ptk"/>
<line x1="244.1" y1="569.7" x2="244.1" y2="574.7" class="ptk"/>
<text transform="translate(245.3 584.3) scale(0.91 1)" class="tk" text-anchor="middle">0</text>
<line x1="294.6" y1="569.7" x2="294.6" y2="574.7" class="ptk"/>
<text transform="translate(295.8 584.3) scale(0.91 1)" class="tk" text-anchor="middle">1</text>
<line x1="311.9" y1="569.7" x2="311.9" y2="574.7" class="ptk"/>
<text transform="translate(313.1 584.3) scale(0.91 1)" class="tk" text-anchor="middle">10</text>
<line x1="346.1" y1="569.7" x2="346.1" y2="574.7" class="ptk"/>
<text transform="translate(347.3 584.3) scale(0.91 1)" class="tk" text-anchor="middle">1000</text>
<text x="301.7" y="498.9" class="pt" text-anchor="middle">67436</text>
<path d="M238.4 539.4H330.4" class="da"/>
<path d="M330.4 539.4V569.7" class="da"/>
<path d="M243.8 511.4L244.7 511.4L245.8 511.4L247.1 511.4L248.5 511.4L250.1 511.4L251.8 511.4L253.5 511.5L255.3 511.5L257.0 511.5L258.8 511.5L260.4 511.6L262.0 511.6L263.5 511.6L265.1 511.7L266.7 511.8L268.3 511.9L269.9 511.9L271.5 512.0L273.1 512.1L274.6 512.2L276.1 512.3L277.5 512.3L278.8 512.4L280.0 512.5L281.1 512.5L282.1 512.5L283.1 512.6L284.0 512.6L284.8 512.6L285.6 512.6L286.4 512.6L287.1 512.6L287.8 512.7L288.5 512.7L289.1 512.7L289.8 512.8L290.5 512.8L291.1 512.9L291.6 513.0L292.2 513.0L292.7 513.1L293.2 513.2L293.7 513.3L294.2 513.3L294.7 513.4L295.2 513.5L295.8 513.6L296.4 513.8L297.0 513.9L297.7 514.0L298.3 514.2L299.0 514.3L299.7 514.5L300.5 514.7L301.2 514.8L301.9 515.0L302.6 515.2L303.3 515.4L303.9 515.5L304.5 515.7L305.2 515.9L305.8 516.1L306.3 516.3L306.9 516.5L307.5 516.7L308.0 516.9L308.6 517.1L309.1 517.3L309.6 517.5L310.1 517.7L310.6 517.9L311.1 518.2L311.6 518.4L312.0 518.7L312.4 518.9L312.8 519.2L313.3 519.4L313.6 519.7L314.0 519.9L314.4 520.2L314.8 520.5L315.2 520.8L315.6 521.1L316.0 521.5L316.4 521.8L316.8 522.2L317.2 522.5L317.6 522.9L318.0 523.3L318.5 523.7L318.9 524.1L319.3 524.5L319.7 525.0L320.1 525.4L320.5 525.9L320.9 526.4L321.3 526.9L321.7 527.4L322.2 527.9L322.6 528.5L323.0 529.0L323.5 529.6L323.9 530.2L324.3 530.8L324.7 531.3L325.1 531.9L325.5 532.4L325.8 532.9L326.1 533.4L326.5 533.9L326.8 534.3L327.0 534.8L327.3 535.2L327.6 535.7L327.8 536.1L328.1 536.5L328.3 537.0L328.6 537.4L328.8 537.9L329.1 538.3L329.4 538.8L329.6 539.2L329.9 539.6L330.2 540.1L330.4 540.5L330.7 540.9L330.9 541.4L331.2 541.8L331.5 542.3L331.8 542.8L332.1 543.3L332.4 543.9L332.7 544.5L333.0 545.1L333.3 545.7L333.7 546.4L334.1 547.1L334.4 547.8L334.8 548.5L335.1 549.2L335.5 549.9L335.8 550.5L336.1 551.1L336.5 551.7L336.8 552.3L337.0 552.8L337.3 553.3L337.6 553.8L337.9 554.3L338.1 554.8L338.4 555.3L338.7 555.7L338.9 556.2L339.2 556.6L339.5 557.0L339.7 557.5L340.0 557.9L340.3 558.3L340.5 558.7L340.8 559.1L341.1 559.5L341.4 559.8L341.6 560.2L341.9 560.6L342.2 560.9L342.5 561.2L342.7 561.6L343.0 561.9L343.3 562.2L343.5 562.5L343.8 562.8L344.1 563.0L344.4 563.3L344.6 563.5L344.9 563.8L345.2 564.0L345.5 564.2L345.7 564.4L346.0 564.6L346.3 564.8L346.5 565.0L346.8 565.1L347.1 565.3L347.3 565.4L347.6 565.5L347.9 565.6L348.1 565.7L348.4 565.8L348.7 565.9L349.0 566.0L349.2 566.1L349.5 566.1L349.9 566.2L350.2 566.2L350.5 566.3L350.8 566.3L351.2 566.4L351.5 566.4L351.8 566.4L352.2 566.4L352.5 566.4L352.9 566.4L353.3 566.4L353.6 566.5L354.0 566.5L354.4 566.5L354.8 566.5L355.2 566.5L355.6 566.5L356.0 566.5L356.5 566.5L356.9 566.5L357.3 566.5L357.7 566.5L358.1 566.5L358.5 566.5L359.0 566.5L359.4 566.5L359.9 566.5L360.4 566.5L360.8 566.5L361.3 566.5L361.8 566.5L362.2 566.5L362.6 566.5L362.9 566.5L363.2 566.5L363.5 566.5" class="cv"/>
<circle cx="260.5" cy="513.5" r="3.7"/>
<circle cx="277.0" cy="513.5" r="3.7"/>
<circle cx="294.4" cy="516.0" r="3.7"/>
<circle cx="311.4" cy="517.0" r="3.7"/>
<circle cx="328.8" cy="537.8" r="3.7"/>
<circle cx="335.3" cy="544.4" r="3.7"/>
<circle cx="340.5" cy="559.6" r="3.7"/>
<text x="242.4" y="534.0" class="ic">IC<tspan class="sub" dy="1.5">50</tspan><tspan dy="-1.5"> = 138±23</tspan></text>
</g>
<g id="p12">
<rect x="380.9" y="504.6" width="128.8" height="65.1" class="fr"/>
<line x1="376.7" y1="567.10" x2="380.9" y2="567.10" class="ptk"/>
<line x1="376.7" y1="556.06" x2="380.9" y2="556.06" class="ptk"/>
<line x1="376.7" y1="545.02" x2="380.9" y2="545.02" class="ptk"/>
<line x1="376.7" y1="533.98" x2="380.9" y2="533.98" class="ptk"/>
<line x1="376.7" y1="522.94" x2="380.9" y2="522.94" class="ptk"/>
<line x1="376.7" y1="511.90" x2="380.9" y2="511.90" class="ptk"/>
<line x1="386.6" y1="569.7" x2="386.6" y2="574.7" class="ptk"/>
<text transform="translate(386.6 584.3) scale(0.91 1)" class="tk" text-anchor="middle">0</text>
<line x1="437.1" y1="569.7" x2="437.1" y2="574.7" class="ptk"/>
<text transform="translate(437.1 584.3) scale(0.91 1)" class="tk" text-anchor="middle">1</text>
<line x1="454.4" y1="569.7" x2="454.4" y2="574.7" class="ptk"/>
<text transform="translate(454.4 584.3) scale(0.91 1)" class="tk" text-anchor="middle">10</text>
<line x1="488.6" y1="569.7" x2="488.6" y2="574.7" class="ptk"/>
<text transform="translate(488.6 584.3) scale(0.91 1)" class="tk" text-anchor="middle">1000</text>
<text transform="translate(510.0 584.3) scale(0.97 1)" class="tk">μM</text>
<text x="444.7" y="498.9" class="pt" text-anchor="middle">11926</text>
<path d="M380.9 539.4H470.8" class="da"/>
<path d="M470.8 539.4V569.7" class="da"/>
<path d="M386.0 511.6L387.2 511.6L388.8 511.6L390.6 511.6L392.7 511.6L394.9 511.6L397.2 511.6L399.6 511.6L402.0 511.6L404.3 511.6L406.4 511.6L408.3 511.6L410.0 511.6L411.4 511.6L412.6 511.6L413.7 511.6L414.6 511.6L415.5 511.6L416.3 511.6L417.1 511.6L417.9 511.6L418.7 511.6L419.7 511.6L420.8 511.6L422.0 511.6L423.4 511.6L424.9 511.6L426.5 511.6L428.2 511.6L430.0 511.6L431.8 511.6L433.5 511.6L435.3 511.6L437.0 511.6L438.7 511.6L440.2 511.6L441.6 511.6L443.0 511.6L444.3 511.6L445.6 511.6L446.8 511.6L448.0 511.6L449.2 511.6L450.2 511.6L451.3 511.6L452.2 511.6L453.1 511.6L454.0 511.6L454.7 511.6L455.4 511.6L455.9 511.6L456.4 511.6L456.8 511.6L457.1 511.6L457.4 511.6L457.6 511.6L457.8 511.6L458.1 511.7L458.3 511.7L458.5 511.7L458.8 511.8L459.1 511.9L459.4 511.9L459.7 512.0L460.0 512.1L460.3 512.2L460.6 512.3L460.8 512.5L461.1 512.6L461.4 512.7L461.6 512.9L461.9 513.1L462.1 513.3L462.3 513.5L462.6 513.7L462.8 513.9L463.0 514.1L463.2 514.4L463.4 514.6L463.6 514.9L463.8 515.2L464.0 515.5L464.2 515.8L464.4 516.2L464.5 516.5L464.7 516.9L464.9 517.3L465.1 517.8L465.2 518.2L465.4 518.7L465.6 519.2L465.7 519.6L465.9 520.2L466.0 520.7L466.2 521.2L466.4 521.7L466.5 522.3L466.7 522.8L466.8 523.4L467.0 524.0L467.1 524.6L467.3 525.3L467.4 525.9L467.6 526.5L467.7 527.2L467.9 527.8L468.0 528.4L468.2 529.0L468.3 529.6L468.5 530.2L468.6 530.8L468.7 531.3L468.9 531.9L469.0 532.4L469.1 533.0L469.3 533.5L469.4 534.0L469.5 534.6L469.7 535.1L469.8 535.6L469.9 536.2L470.1 536.7L470.2 537.3L470.3 537.8L470.5 538.3L470.6 538.9L470.7 539.4L470.9 539.9L471.0 540.5L471.2 541.0L471.3 541.6L471.4 542.2L471.6 542.7L471.7 543.3L471.9 543.9L472.0 544.5L472.2 545.2L472.4 545.8L472.5 546.4L472.7 547.0L472.8 547.7L473.0 548.3L473.2 548.9L473.4 549.5L473.5 550.1L473.7 550.7L473.9 551.2L474.1 551.8L474.3 552.4L474.5 553.0L474.7 553.5L474.9 554.1L475.1 554.6L475.3 555.1L475.5 555.7L475.8 556.2L476.0 556.6L476.2 557.1L476.5 557.6L476.7 558.0L477.0 558.5L477.3 558.9L477.5 559.3L477.8 559.7L478.1 560.1L478.4 560.5L478.7 560.9L479.0 561.2L479.3 561.5L479.6 561.9L479.9 562.2L480.2 562.5L480.5 562.7L480.9 563.0L481.2 563.2L481.6 563.5L481.9 563.7L482.3 563.9L482.6 564.1L483.0 564.3L483.4 564.5L483.7 564.7L484.1 564.9L484.5 565.0L484.9 565.2L485.3 565.3L485.7 565.5L486.1 565.6L486.5 565.7L487.0 565.8L487.4 565.9L487.8 566.0L488.3 566.1L488.7 566.2L489.1 566.3L489.5 566.4L489.9 566.4L490.4 566.5L490.8 566.5L491.2 566.6L491.7 566.6L492.2 566.7L492.8 566.7L493.3 566.7L494.0 566.8L494.7 566.8L495.6 566.8L496.6 566.9L497.6 566.9L498.6 566.9L499.7 566.9L500.7 566.9L501.7 566.9L502.6 566.9L503.4 566.9L504.1 566.9L504.6 566.9" class="cv"/>
<circle cx="402.0" cy="511.0" r="3.7"/>
<circle cx="418.5" cy="515.5" r="3.7"/>
<circle cx="435.9" cy="516.0" r="3.7"/>
<circle cx="453.1" cy="517.3" r="3.7"/>
<circle cx="470.0" cy="535.4" r="3.7"/>
<circle cx="476.8" cy="554.7" r="3.7"/>
<circle cx="482.2" cy="562.4" r="3.7"/>
<text x="384.3" y="533.5" class="ic">IC<tspan class="sub" dy="1.5">50</tspan><tspan dy="-1.5"> = 126±10</tspan></text>
</g>
<g id="p20">
<rect x="97.8" y="641.4" width="128.6" height="64.7" class="fr"/>
<line x1="93.6" y1="704.00" x2="97.8" y2="704.00" class="ptk"/>
<text transform="translate(89.6 708.6) scale(0.91 1)" class="tk" text-anchor="end">0</text>
<line x1="93.6" y1="692.96" x2="97.8" y2="692.96" class="ptk"/>
<text transform="translate(89.6 697.2) scale(0.91 1)" class="tk" text-anchor="end">20</text>
<line x1="93.6" y1="681.92" x2="97.8" y2="681.92" class="ptk"/>
<text transform="translate(89.6 685.9) scale(0.91 1)" class="tk" text-anchor="end">40</text>
<line x1="93.6" y1="670.88" x2="97.8" y2="670.88" class="ptk"/>
<text transform="translate(89.6 674.5) scale(0.91 1)" class="tk" text-anchor="end">60</text>
<line x1="93.6" y1="659.84" x2="97.8" y2="659.84" class="ptk"/>
<text transform="translate(89.6 663.2) scale(0.91 1)" class="tk" text-anchor="end">80</text>
<line x1="93.6" y1="648.80" x2="97.8" y2="648.80" class="ptk"/>
<text transform="translate(89.6 651.8) scale(0.91 1)" class="tk" text-anchor="end">100</text>
<text transform="translate(69.8 671.8) rotate(-90)" class="tk" style="font-size:8.9px" text-anchor="middle">% Viability</text>
<line x1="103.5" y1="706.1" x2="103.5" y2="711.1" class="ptk"/>
<text transform="translate(103.5 720.8) scale(0.91 1)" class="tk" text-anchor="middle">0</text>
<line x1="154.0" y1="706.1" x2="154.0" y2="711.1" class="ptk"/>
<text transform="translate(154.0 720.8) scale(0.91 1)" class="tk" text-anchor="middle">1</text>
<line x1="171.3" y1="706.1" x2="171.3" y2="711.1" class="ptk"/>
<text transform="translate(171.3 720.8) scale(0.91 1)" class="tk" text-anchor="middle">10</text>
<line x1="205.5" y1="706.1" x2="205.5" y2="711.1" class="ptk"/>
<text transform="translate(205.5 720.8) scale(0.91 1)" class="tk" text-anchor="middle">1000</text>
<text x="162.4" y="635.7" class="pt" text-anchor="middle">SAHA</text>
<path d="M97.8 676.3H186.8" class="da"/>
<path d="M186.8 676.3V706.1" class="da"/>
<path d="M103.3 644.9L104.1 644.9L105.2 644.9L106.5 644.9L107.9 644.9L109.4 644.9L111.0 644.9L112.7 644.9L114.3 644.9L115.9 645.0L117.4 645.0L118.8 645.0L120.0 645.0L121.1 645.0L122.1 645.0L123.0 645.1L123.9 645.1L124.7 645.1L125.5 645.2L126.3 645.2L127.1 645.2L127.8 645.3L128.5 645.3L129.3 645.4L130.0 645.4L130.7 645.4L131.4 645.5L132.1 645.5L132.8 645.6L133.5 645.6L134.1 645.7L134.8 645.7L135.4 645.8L136.0 645.8L136.7 645.9L137.3 645.9L138.0 646.0L138.7 646.1L139.4 646.1L140.0 646.2L140.7 646.3L141.4 646.4L142.1 646.5L142.8 646.6L143.4 646.7L144.1 646.8L144.8 646.9L145.5 647.0L146.2 647.1L146.9 647.3L147.5 647.4L148.2 647.6L148.9 647.7L149.6 647.9L150.3 648.0L151.0 648.2L151.6 648.4L152.3 648.6L153.0 648.8L153.7 649.0L154.4 649.3L155.0 649.5L155.7 649.8L156.4 650.1L157.1 650.4L157.8 650.8L158.5 651.1L159.1 651.4L159.8 651.8L160.5 652.2L161.2 652.6L161.9 653.0L162.5 653.4L163.2 653.8L163.9 654.2L164.6 654.6L165.3 655.1L166.0 655.5L166.6 656.0L167.3 656.4L168.0 656.9L168.7 657.4L169.4 658.0L170.0 658.5L170.7 659.1L171.4 659.7L172.1 660.3L172.8 660.9L173.5 661.6L174.1 662.3L174.8 663.0L175.5 663.7L176.2 664.4L176.9 665.1L177.5 665.8L178.2 666.6L178.9 667.3L179.6 668.0L180.3 668.8L181.0 669.5L181.7 670.3L182.4 671.1L183.1 671.9L183.8 672.7L184.5 673.4L185.2 674.2L185.8 674.9L186.5 675.6L187.1 676.3L187.7 676.9L188.3 677.5L188.8 678.1L189.4 678.7L189.9 679.2L190.5 679.8L191.0 680.3L191.5 680.8L192.0 681.3L192.6 681.8L193.1 682.3L193.6 682.8L194.2 683.3L194.7 683.8L195.3 684.3L195.8 684.8L196.4 685.3L196.9 685.8L197.5 686.3L198.0 686.7L198.5 687.2L199.1 687.6L199.6 688.1L200.2 688.5L200.7 689.0L201.3 689.4L201.8 689.9L202.4 690.3L202.9 690.7L203.5 691.2L204.0 691.6L204.5 692.0L205.1 692.4L205.6 692.7L206.2 693.1L206.7 693.5L207.3 693.8L207.8 694.1L208.3 694.4L208.8 694.7L209.4 695.0L209.9 695.2L210.4 695.5L211.0 695.7L211.5 696.0L212.1 696.2L212.7 696.5L213.3 696.7L213.9 697.0L214.6 697.3L215.4 697.6L216.2 697.8L217.0 698.1L217.8 698.4L218.5 698.7L219.3 698.9L219.9 699.2L220.5 699.4L221.1 699.5L221.5 699.7" class="cv"/>
<circle cx="119.4" cy="647.2" r="3.7"/>
<circle cx="136.1" cy="645.9" r="3.7"/>
<circle cx="153.1" cy="645.5" r="3.7"/>
<circle cx="170.4" cy="663.2" r="3.7"/>
<circle cx="187.1" cy="670.9" r="3.7"/>
<circle cx="194.0" cy="678.7" r="3.7"/>
<circle cx="199.4" cy="692.1" r="3.7"/>
<text x="104.2" y="670.4" class="ic">IC<tspan class="sub" dy="1.5">50</tspan><tspan dy="-1.5"> = 90±45</tspan></text>
</g>
<g id="p21">
<rect x="238.9" y="640.6" width="128.8" height="65.5" class="fr"/>
<line x1="234.7" y1="704.00" x2="238.9" y2="704.00" class="ptk"/>
<line x1="234.7" y1="692.96" x2="238.9" y2="692.96" class="ptk"/>
<line x1="234.7" y1="681.92" x2="238.9" y2="681.92" class="ptk"/>
<line x1="234.7" y1="670.88" x2="238.9" y2="670.88" class="ptk"/>
<line x1="234.7" y1="659.84" x2="238.9" y2="659.84" class="ptk"/>
<line x1="234.7" y1="648.80" x2="238.9" y2="648.80" class="ptk"/>
<line x1="244.6" y1="706.1" x2="244.6" y2="711.1" class="ptk"/>
<text transform="translate(245.8 720.8) scale(0.91 1)" class="tk" text-anchor="middle">0</text>
<line x1="295.1" y1="706.1" x2="295.1" y2="711.1" class="ptk"/>
<text transform="translate(296.3 720.8) scale(0.91 1)" class="tk" text-anchor="middle">1</text>
<line x1="312.4" y1="706.1" x2="312.4" y2="711.1" class="ptk"/>
<text transform="translate(313.6 720.8) scale(0.91 1)" class="tk" text-anchor="middle">10</text>
<line x1="346.6" y1="706.1" x2="346.6" y2="711.1" class="ptk"/>
<text transform="translate(347.8 720.8) scale(0.91 1)" class="tk" text-anchor="middle">1000</text>
<text x="295.6" y="634.9" class="pt" text-anchor="middle">195327</text>
<path d="M238.9 676.3H325.5" class="da"/>
<path d="M325.5 676.3V706.1" class="da"/>
<path d="M244.0 645.3L244.8 645.4L245.9 645.4L247.1 645.5L248.5 645.6L250.1 645.8L251.7 645.9L253.3 646.0L254.9 646.1L256.5 646.3L258.0 646.4L259.3 646.5L260.5 646.6L261.5 646.7L262.5 646.8L263.4 646.9L264.2 647.0L264.9 647.1L265.7 647.2L266.4 647.3L267.1 647.4L267.8 647.5L268.5 647.6L269.2 647.7L270.0 647.8L270.8 647.9L271.7 648.0L272.5 648.1L273.4 648.2L274.2 648.4L275.1 648.5L275.9 648.6L276.8 648.7L277.6 648.9L278.4 649.0L279.2 649.1L280.0 649.3L280.7 649.4L281.5 649.6L282.2 649.7L282.9 649.9L283.5 650.1L284.2 650.2L284.9 650.4L285.5 650.6L286.2 650.8L286.8 651.0L287.5 651.2L288.2 651.4L288.9 651.6L289.5 651.9L290.2 652.1L290.9 652.4L291.6 652.6L292.3 652.9L293.0 653.2L293.6 653.5L294.3 653.7L295.0 654.0L295.7 654.4L296.4 654.7L297.0 655.0L297.7 655.3L298.4 655.7L299.1 656.0L299.8 656.4L300.5 656.7L301.1 657.1L301.8 657.5L302.5 657.9L303.2 658.3L303.9 658.7L304.5 659.1L305.2 659.5L305.9 659.9L306.6 660.3L307.3 660.8L308.0 661.2L308.6 661.7L309.3 662.1L310.0 662.6L310.7 663.0L311.4 663.5L312.0 664.0L312.7 664.5L313.4 665.0L314.1 665.5L314.9 666.1L315.6 666.7L316.3 667.2L317.0 667.8L317.7 668.4L318.4 669.0L319.1 669.5L319.7 670.1L320.3 670.6L320.9 671.0L321.4 671.5L321.9 671.9L322.3 672.3L322.7 672.6L323.1 673.0L323.5 673.3L323.8 673.6L324.2 674.0L324.6 674.3L324.9 674.7L325.4 675.0L325.8 675.5L326.3 675.9L326.8 676.3L327.3 676.8L327.9 677.3L328.4 677.7L329.0 678.2L329.6 678.7L330.1 679.2L330.7 679.7L331.3 680.2L331.8 680.7L332.4 681.2L332.9 681.7L333.5 682.1L334.0 682.6L334.5 683.1L335.1 683.6L335.6 684.1L336.2 684.6L336.7 685.1L337.3 685.5L337.8 686.0L338.4 686.5L338.9 686.9L339.5 687.4L340.0 687.8L340.5 688.2L341.1 688.6L341.6 689.1L342.2 689.5L342.7 689.9L343.3 690.3L343.8 690.7L344.4 691.1L344.9 691.5L345.5 691.8L346.0 692.2L346.5 692.5L347.1 692.9L347.6 693.2L348.2 693.5L348.7 693.9L349.3 694.2L349.8 694.5L350.4 694.8L350.9 695.1L351.5 695.3L352.0 695.6L352.6 695.8L353.1 696.1L353.7 696.3L354.3 696.5L354.9 696.7L355.4 696.9L356.0 697.1L356.5 697.3L357.1 697.4L357.6 697.6L358.1 697.7L358.5 697.9L359.0 698.0L359.4 698.1L359.8 698.2L360.2 698.3L360.6 698.4L361.0 698.4L361.3 698.5L361.7 698.5L362.0 698.6L362.2 698.6L362.4 698.7L362.6 698.7" class="cv"/>
<circle cx="260.5" cy="648.4" r="3.7"/>
<circle cx="277.0" cy="647.9" r="3.7"/>
<circle cx="294.4" cy="648.1" r="3.7"/>
<circle cx="311.1" cy="666.8" r="3.7"/>
<circle cx="328.3" cy="672.7" r="3.7"/>
<circle cx="334.8" cy="678.7" r="3.7"/>
<circle cx="340.2" cy="686.9" r="3.7"/>
<text x="244.5" y="671.4" class="ic">IC<tspan class="sub" dy="1.5">50</tspan><tspan dy="-1.5"> = 89±48</tspan></text>
</g>
<g id="p22">
<rect x="380.4" y="640.6" width="129.3" height="65.5" class="fr"/>
<line x1="376.2" y1="704.00" x2="380.4" y2="704.00" class="ptk"/>
<line x1="376.2" y1="692.96" x2="380.4" y2="692.96" class="ptk"/>
<line x1="376.2" y1="681.92" x2="380.4" y2="681.92" class="ptk"/>
<line x1="376.2" y1="670.88" x2="380.4" y2="670.88" class="ptk"/>
<line x1="376.2" y1="659.84" x2="380.4" y2="659.84" class="ptk"/>
<line x1="376.2" y1="648.80" x2="380.4" y2="648.80" class="ptk"/>
<line x1="385.1" y1="706.1" x2="385.1" y2="711.1" class="ptk"/>
<text transform="translate(385.1 720.8) scale(0.91 1)" class="tk" text-anchor="middle">0</text>
<line x1="435.6" y1="706.1" x2="435.6" y2="711.1" class="ptk"/>
<text transform="translate(435.6 720.8) scale(0.91 1)" class="tk" text-anchor="middle">1</text>
<line x1="452.9" y1="706.1" x2="452.9" y2="711.1" class="ptk"/>
<text transform="translate(452.9 720.8) scale(0.91 1)" class="tk" text-anchor="middle">10</text>
<line x1="487.1" y1="706.1" x2="487.1" y2="711.1" class="ptk"/>
<text transform="translate(487.1 720.8) scale(0.91 1)" class="tk" text-anchor="middle">1000</text>
<text transform="translate(510.0 720.8) scale(0.97 1)" class="tk">μM</text>
<text x="444.4" y="634.9" class="pt" text-anchor="middle">44548</text>
<path d="M380.4 675.9H475.5" class="da da2"/>
<path d="M475.5 675.9V706.1" class="da"/>
<path d="M385.5 649.5L386.7 649.5L388.3 649.5L390.2 649.5L392.3 649.5L394.6 649.5L397.0 649.5L399.4 649.5L401.9 649.5L404.2 649.5L406.4 649.5L408.3 649.5L410.0 649.5L411.4 649.5L412.6 649.5L413.6 649.5L414.5 649.5L415.3 649.5L416.0 649.6L416.7 649.6L417.5 649.6L418.4 649.6L419.4 649.6L420.6 649.6L422.0 649.6L423.6 649.6L425.4 649.6L427.4 649.6L429.4 649.6L431.6 649.6L433.8 649.6L436.0 649.6L438.3 649.6L440.5 649.6L442.6 649.6L444.6 649.6L446.5 649.6L448.4 649.6L450.3 649.6L452.2 649.6L454.1 649.6L455.9 649.6L457.7 649.6L459.5 649.6L461.1 649.6L462.6 649.6L464.0 649.6L465.2 649.6L466.2 649.6L467.0 649.6L467.6 649.6L468.0 649.6L468.3 649.6L468.4 649.6L468.5 649.6L468.5 649.6L468.5 649.6L468.4 649.6L468.4 649.6L468.5 649.7L468.6 649.8L468.8 649.9L469.1 650.0L469.3 650.1L469.5 650.2L469.7 650.3L469.9 650.4L470.1 650.6L470.3 650.8L470.5 651.0L470.7 651.2L470.9 651.5L471.1 651.7L471.3 652.0L471.4 652.3L471.6 652.7L471.7 653.0L471.8 653.4L472.0 653.8L472.1 654.2L472.2 654.6L472.4 655.1L472.5 655.6L472.6 656.1L472.7 656.6L472.9 657.2L473.0 657.8L473.1 658.5L473.2 659.1L473.3 659.8L473.4 660.5L473.5 661.2L473.6 662.0L473.8 662.7L473.9 663.4L473.9 664.1L474.0 664.8L474.1 665.5L474.2 666.2L474.3 666.8L474.3 667.5L474.4 668.1L474.5 668.8L474.5 669.5L474.6 670.2L474.7 670.8L474.7 671.5L474.8 672.3L474.9 673.0L474.9 673.8L475.0 674.5L475.1 675.3L475.1 676.2L475.2 677.0L475.3 677.8L475.3 678.6L475.4 679.5L475.5 680.3L475.5 681.2L475.6 682.0L475.7 682.8L475.7 683.6L475.8 684.5L475.9 685.3L475.9 686.2L476.0 687.0L476.1 687.9L476.1 688.7L476.2 689.5L476.3 690.4L476.3 691.1L476.4 691.9L476.5 692.6L476.6 693.4L476.7 694.1L476.7 694.8L476.8 695.4L476.9 696.1L477.0 696.8L477.1 697.4L477.2 698.0L477.3 698.5L477.4 699.1L477.5 699.6L477.6 700.0L477.8 700.4L477.9 700.8L478.0 701.1L478.1 701.4L478.2 701.6L478.4 701.8L478.5 702.0L478.6 702.2L478.8 702.4L478.9 702.5L479.1 702.7L479.3 702.8L479.4 702.9L479.6 703.0L479.7 703.0L479.8 703.0L479.9 703.0L480.0 703.0L480.2 703.0L480.4 703.0L480.6 703.0L480.9 703.0L481.3 702.9L481.7 702.9L482.2 703.0L482.8 703.0L483.4 703.0L484.1 703.0L484.8 703.0L485.6 703.0L486.4 703.0L487.2 703.0L488.0 703.0L488.9 702.9L489.8 702.9L490.7 702.9L491.7 702.9L492.8 702.9L494.0 702.9L495.3 702.9L496.6 702.9L497.8 702.9L499.1 702.9L500.3 702.9L501.4 702.9L502.3 702.9L503.2 702.9L503.8 702.9" class="cv"/>
<circle cx="402.0" cy="648.9" r="3.7"/>
<circle cx="418.5" cy="651.7" r="3.7"/>
<circle cx="435.4" cy="647.6" r="3.7"/>
<circle cx="452.3" cy="649.6" r="3.7"/>
<circle cx="469.5" cy="652.1" r="3.7"/>
<circle cx="476.0" cy="684.5" r="3.7"/>
<circle cx="481.2" cy="697.2" r="3.7"/>
<text x="383.8" y="670.4" class="ic">IC<tspan class="sub" dy="1.5">50</tspan><tspan dy="-1.5"> = 213±13</tspan></text>
</g>
<g id="p30">
<rect x="97.7" y="752.7" width="128.7" height="64.6" class="fr"/>
<line x1="93.5" y1="814.40" x2="97.7" y2="814.40" class="ptk"/>
<text transform="translate(89.5 819.0) scale(0.91 1)" class="tk" text-anchor="end">0</text>
<line x1="93.5" y1="803.38" x2="97.7" y2="803.38" class="ptk"/>
<text transform="translate(89.5 807.7) scale(0.91 1)" class="tk" text-anchor="end">20</text>
<line x1="93.5" y1="792.36" x2="97.7" y2="792.36" class="ptk"/>
<text transform="translate(89.5 796.3) scale(0.91 1)" class="tk" text-anchor="end">40</text>
<line x1="93.5" y1="781.34" x2="97.7" y2="781.34" class="ptk"/>
<text transform="translate(89.5 785.0) scale(0.91 1)" class="tk" text-anchor="end">60</text>
<line x1="93.5" y1="770.32" x2="97.7" y2="770.32" class="ptk"/>
<text transform="translate(89.5 773.6) scale(0.91 1)" class="tk" text-anchor="end">80</text>
<line x1="93.5" y1="759.30" x2="97.7" y2="759.30" class="ptk"/>
<text transform="translate(89.5 762.3) scale(0.91 1)" class="tk" text-anchor="end">100</text>
<text transform="translate(69.7 783.0) rotate(-90)" class="tk" style="font-size:8.9px" text-anchor="middle">% Viability</text>
<line x1="103.4" y1="817.3" x2="103.4" y2="822.3" class="ptk"/>
<text transform="translate(103.4 831.7) scale(0.91 1)" class="tk" text-anchor="middle">0</text>
<line x1="153.9" y1="817.3" x2="153.9" y2="822.3" class="ptk"/>
<text transform="translate(153.9 831.7) scale(0.91 1)" class="tk" text-anchor="middle">1</text>
<line x1="171.2" y1="817.3" x2="171.2" y2="822.3" class="ptk"/>
<text transform="translate(171.2 831.7) scale(0.91 1)" class="tk" text-anchor="middle">10</text>
<line x1="205.4" y1="817.3" x2="205.4" y2="822.3" class="ptk"/>
<text transform="translate(205.4 831.7) scale(0.91 1)" class="tk" text-anchor="middle">1000</text>
<text x="162.4" y="747.0" class="pt" text-anchor="middle">299968</text>
<path d="M97.7 787.0H195.6" class="da da1"/>
<path d="M195.6 787.0V817.3" class="da"/>
<path d="M103.3 758.7L104.4 758.7L105.8 758.7L107.4 758.7L109.2 758.7L111.2 758.7L113.3 758.7L115.5 758.7L117.6 758.7L119.7 758.7L121.6 758.7L123.4 758.7L125.0 758.7L126.4 758.7L127.6 758.7L128.7 758.7L129.7 758.7L130.7 758.7L131.6 758.7L132.6 758.7L133.5 758.6L134.5 758.6L135.5 758.6L136.7 758.6L138.0 758.6L139.4 758.6L140.9 758.7L142.5 758.7L144.1 758.7L145.8 758.7L147.5 758.7L149.2 758.7L151.0 758.7L152.7 758.8L154.4 758.8L156.0 758.8L157.6 758.8L159.2 758.8L160.9 758.8L162.5 758.8L164.2 758.8L165.8 758.8L167.5 758.8L169.0 758.8L170.5 758.8L172.0 758.8L173.3 758.9L174.5 758.9L175.6 759.0L176.6 759.0L177.4 759.1L178.1 759.2L178.7 759.2L179.3 759.3L179.7 759.4L180.2 759.5L180.5 759.6L180.9 759.8L181.3 759.9L181.7 760.1L182.2 760.3L182.7 760.5L183.1 760.7L183.6 760.9L184.0 761.1L184.4 761.4L184.8 761.6L185.2 761.9L185.6 762.2L186.0 762.5L186.4 762.8L186.7 763.2L187.1 763.5L187.4 763.9L187.7 764.3L188.0 764.7L188.3 765.2L188.6 765.6L188.8 766.1L189.1 766.6L189.3 767.1L189.6 767.6L189.8 768.1L190.1 768.7L190.4 769.3L190.6 769.9L190.9 770.5L191.2 771.1L191.5 771.8L191.8 772.5L192.1 773.2L192.4 773.9L192.6 774.6L192.9 775.4L193.2 776.1L193.4 776.8L193.6 777.5L193.8 778.1L194.0 778.8L194.2 779.5L194.4 780.1L194.6 780.8L194.7 781.4L194.9 782.1L195.0 782.8L195.2 783.5L195.3 784.2L195.5 784.9L195.6 785.6L195.7 786.4L195.9 787.2L196.0 788.0L196.2 788.8L196.3 789.7L196.4 790.5L196.6 791.4L196.7 792.2L196.8 793.1L197.0 793.9L197.1 794.7L197.2 795.5L197.4 796.2L197.5 796.9L197.6 797.7L197.8 798.4L197.9 799.1L198.0 799.8L198.2 800.4L198.3 801.1L198.4 801.7L198.6 802.4L198.7 803.0L198.9 803.6L199.0 804.2L199.2 804.9L199.4 805.5L199.5 806.0L199.7 806.6L199.9 807.2L200.1 807.7L200.2 808.3L200.4 808.8L200.6 809.3L200.8 809.7L201.0 810.2L201.2 810.6L201.4 811.0L201.6 811.4L201.8 811.7L202.0 812.1L202.2 812.4L202.4 812.7L202.6 812.9L202.8 813.2L203.0 813.4L203.2 813.6L203.5 813.8L203.7 813.9L203.9 814.0L204.1 814.1L204.4 814.1L204.6 814.2L204.8 814.2L205.1 814.2L205.4 814.1L205.7 814.1L206.0 814.1L206.3 814.1L206.7 814.1L207.2 814.1L207.6 814.1L208.1 814.1L208.6 814.1L209.1 814.1L209.7 814.1L210.3 814.1L210.8 814.1L211.4 814.1L212.1 814.1L212.7 814.1L213.3 814.1L213.9 814.1L214.6 814.1L215.4 814.1L216.2 814.1L217.0 814.1L217.8 814.1L218.5 814.1L219.3 814.1L219.9 814.1L220.5 814.1L221.1 814.1L221.5 814.1" class="cv"/>
<circle cx="119.4" cy="758.7" r="3.7"/>
<circle cx="136.1" cy="758.0" r="3.7"/>
<circle cx="153.1" cy="758.1" r="3.7"/>
<circle cx="170.4" cy="760.3" r="3.7"/>
<circle cx="187.1" cy="761.6" r="3.7"/>
<circle cx="194.0" cy="779.9" r="3.7"/>
<circle cx="199.4" cy="801.2" r="3.7"/>
<text x="102.5" y="779.6" class="ic">IC<tspan class="sub" dy="1.5">50</tspan><tspan dy="-1.5"> = 300±17</tspan></text>
</g>
<g id="p31">
<rect x="238.4" y="752.2" width="129.3" height="64.2" class="fr"/>
<line x1="234.2" y1="813.50" x2="238.4" y2="813.50" class="ptk"/>
<line x1="234.2" y1="802.68" x2="238.4" y2="802.68" class="ptk"/>
<line x1="234.2" y1="791.86" x2="238.4" y2="791.86" class="ptk"/>
<line x1="234.2" y1="781.04" x2="238.4" y2="781.04" class="ptk"/>
<line x1="234.2" y1="770.22" x2="238.4" y2="770.22" class="ptk"/>
<line x1="234.2" y1="759.40" x2="238.4" y2="759.40" class="ptk"/>
<line x1="244.1" y1="816.4" x2="244.1" y2="821.4" class="ptk"/>
<text transform="translate(245.3 831.7) scale(0.91 1)" class="tk" text-anchor="middle">0</text>
<line x1="294.6" y1="816.4" x2="294.6" y2="821.4" class="ptk"/>
<text transform="translate(295.8 831.7) scale(0.91 1)" class="tk" text-anchor="middle">1</text>
<line x1="311.9" y1="816.4" x2="311.9" y2="821.4" class="ptk"/>
<text transform="translate(313.1 831.7) scale(0.91 1)" class="tk" text-anchor="middle">10</text>
<line x1="346.1" y1="816.4" x2="346.1" y2="821.4" class="ptk"/>
<text transform="translate(347.3 831.7) scale(0.91 1)" class="tk" text-anchor="middle">1000</text>
<text x="301.7" y="746.5" class="pt" text-anchor="middle">67436</text>
<path d="M238.4 786.0H330.4" class="da da1"/>
<path d="M330.4 786.0V816.4" class="da"/>
<path d="M243.5 758.5L244.4 758.5L245.5 758.5L246.8 758.5L248.3 758.5L249.9 758.5L251.6 758.5L253.4 758.6L255.2 758.6L257.0 758.6L258.7 758.6L260.4 758.6L262.0 758.6L263.5 758.6L265.1 758.6L266.7 758.6L268.3 758.6L269.9 758.6L271.5 758.6L273.1 758.6L274.6 758.6L276.1 758.6L277.5 758.6L278.8 758.6L280.0 758.6L281.1 758.7L282.1 758.7L283.1 758.7L283.9 758.7L284.8 758.8L285.5 758.8L286.3 758.9L287.0 758.9L287.7 758.9L288.4 759.0L289.1 759.1L289.8 759.1L290.6 759.2L291.3 759.3L292.0 759.3L292.7 759.4L293.3 759.5L294.0 759.6L294.7 759.7L295.3 759.8L296.0 759.9L296.7 760.0L297.3 760.1L298.0 760.3L298.7 760.4L299.4 760.6L300.1 760.7L300.8 760.9L301.5 761.1L302.2 761.2L302.9 761.4L303.6 761.6L304.3 761.8L304.9 762.0L305.6 762.2L306.2 762.4L306.8 762.6L307.4 762.8L307.9 763.0L308.5 763.2L309.0 763.4L309.6 763.6L310.1 763.8L310.6 764.1L311.1 764.3L311.7 764.6L312.2 764.9L312.7 765.2L313.3 765.5L313.8 765.9L314.4 766.2L315.0 766.6L315.5 767.0L316.1 767.5L316.7 767.9L317.2 768.3L317.8 768.8L318.3 769.2L318.8 769.6L319.3 770.1L319.7 770.5L320.2 771.0L320.6 771.5L321.1 771.9L321.5 772.4L321.9 772.9L322.3 773.4L322.7 773.9L323.1 774.4L323.4 774.9L323.8 775.3L324.2 775.8L324.6 776.3L324.9 776.8L325.3 777.2L325.6 777.7L326.0 778.2L326.3 778.6L326.7 779.1L327.0 779.6L327.3 780.1L327.6 780.5L328.0 781.0L328.3 781.5L328.6 782.1L328.9 782.6L329.1 783.1L329.4 783.6L329.7 784.2L330.0 784.7L330.2 785.3L330.5 785.8L330.7 786.4L331.0 786.9L331.3 787.5L331.5 788.1L331.8 788.7L332.1 789.3L332.4 789.9L332.6 790.5L332.9 791.1L333.2 791.8L333.5 792.4L333.7 793.0L334.0 793.7L334.3 794.3L334.5 794.9L334.8 795.5L335.1 796.0L335.4 796.6L335.6 797.2L335.9 797.7L336.2 798.3L336.5 798.9L336.7 799.4L337.0 799.9L337.3 800.5L337.5 801.0L337.8 801.5L338.1 802.0L338.4 802.5L338.6 803.0L338.9 803.4L339.2 803.9L339.5 804.4L339.7 804.8L340.0 805.2L340.3 805.7L340.5 806.1L340.8 806.5L341.1 806.9L341.4 807.2L341.6 807.6L341.9 807.9L342.2 808.3L342.4 808.6L342.7 808.9L343.0 809.2L343.2 809.4L343.5 809.7L343.8 810.0L344.0 810.2L344.3 810.4L344.6 810.7L344.9 810.9L345.3 811.1L345.6 811.3L345.9 811.5L346.2 811.7L346.6 811.8L346.9 812.0L347.3 812.1L347.6 812.3L348.0 812.4L348.4 812.5L348.7 812.6L349.1 812.7L349.5 812.8L349.9 812.9L350.3 812.9L350.7 813.0L351.1 813.0L351.6 813.0L352.0 813.1L352.4 813.1L352.8 813.1L353.2 813.1L353.6 813.1L354.0 813.1L354.5 813.2L354.9 813.2L355.3 813.2L355.7 813.2L356.1 813.2L356.6 813.2L357.0 813.1L357.4 813.1L357.8 813.1L358.2 813.1L358.5 813.1L358.9 813.1L359.3 813.1L359.7 813.1L360.1 813.1L360.5 813.1L360.9 813.1L361.3 813.1L361.6 813.1L361.9 813.1L362.2 813.1L362.4 813.1L362.6 813.1" class="cv"/>
<circle cx="260.5" cy="754.7" r="3.7"/>
<circle cx="277.0" cy="761.0" r="3.7"/>
<circle cx="293.9" cy="762.4" r="3.7"/>
<circle cx="311.1" cy="764.0" r="3.7"/>
<circle cx="328.3" cy="780.4" r="3.7"/>
<circle cx="334.8" cy="795.9" r="3.7"/>
<circle cx="340.2" cy="802.5" r="3.7"/>
<text x="244.4" y="782.0" class="ic">IC<tspan class="sub" dy="1.5">50</tspan><tspan dy="-1.5"> = 131±26</tspan></text>
</g>
<g id="p32">
<rect x="380.4" y="752.2" width="128.6" height="64.2" class="fr"/>
<line x1="376.2" y1="813.50" x2="380.4" y2="813.50" class="ptk"/>
<line x1="376.2" y1="802.68" x2="380.4" y2="802.68" class="ptk"/>
<line x1="376.2" y1="791.86" x2="380.4" y2="791.86" class="ptk"/>
<line x1="376.2" y1="781.04" x2="380.4" y2="781.04" class="ptk"/>
<line x1="376.2" y1="770.22" x2="380.4" y2="770.22" class="ptk"/>
<line x1="376.2" y1="759.40" x2="380.4" y2="759.40" class="ptk"/>
<line x1="384.9" y1="816.4" x2="384.9" y2="821.4" class="ptk"/>
<text transform="translate(384.9 831.7) scale(0.91 1)" class="tk" text-anchor="middle">0</text>
<line x1="435.4" y1="816.4" x2="435.4" y2="821.4" class="ptk"/>
<text transform="translate(435.4 831.7) scale(0.91 1)" class="tk" text-anchor="middle">1</text>
<line x1="452.7" y1="816.4" x2="452.7" y2="821.4" class="ptk"/>
<text transform="translate(452.7 831.7) scale(0.91 1)" class="tk" text-anchor="middle">10</text>
<line x1="486.9" y1="816.4" x2="486.9" y2="821.4" class="ptk"/>
<text transform="translate(486.9 831.7) scale(0.91 1)" class="tk" text-anchor="middle">1000</text>
<text transform="translate(509.3 831.7) scale(0.97 1)" class="tk">μM</text>
<text x="444.1" y="746.5" class="pt" text-anchor="middle">11926</text>
<path d="M380.4 785.6H474.7" class="da da2"/>
<path d="M474.7 785.6V816.4" class="da"/>
<path d="M385.8 754.6L386.7 754.6L387.9 754.6L389.3 754.6L390.9 754.6L392.6 754.6L394.3 754.6L396.2 754.5L398.1 754.5L399.9 754.5L401.7 754.6L403.4 754.6L405.0 754.6L406.5 754.6L408.1 754.7L409.6 754.7L411.2 754.8L412.8 754.9L414.3 755.0L415.8 755.0L417.2 755.1L418.5 755.2L419.8 755.2L421.0 755.3L422.0 755.4L422.9 755.4L423.7 755.5L424.4 755.5L425.0 755.5L425.5 755.6L425.9 755.6L426.3 755.6L426.8 755.7L427.2 755.7L427.6 755.7L428.0 755.8L428.5 755.9L429.1 755.9L429.6 756.0L430.2 756.1L430.7 756.1L431.3 756.2L431.8 756.3L432.4 756.4L432.9 756.5L433.5 756.6L434.0 756.7L434.5 756.9L435.1 757.0L435.6 757.2L436.2 757.3L436.7 757.5L437.3 757.7L437.8 757.9L438.4 758.1L438.9 758.3L439.5 758.5L440.0 758.8L440.5 759.0L441.1 759.2L441.6 759.5L442.2 759.7L442.7 759.9L443.3 760.2L443.8 760.4L444.4 760.7L444.9 760.9L445.5 761.2L446.0 761.5L446.5 761.8L447.1 762.1L447.6 762.4L448.2 762.7L448.7 763.1L449.3 763.4L449.8 763.8L450.4 764.2L450.9 764.6L451.5 765.0L452.0 765.5L452.5 765.9L453.1 766.3L453.6 766.8L454.2 767.2L454.7 767.6L455.3 768.1L455.8 768.5L456.4 769.0L456.9 769.5L457.5 770.0L458.0 770.4L458.5 770.9L459.1 771.4L459.6 771.9L460.2 772.4L460.7 772.9L461.3 773.4L461.8 773.8L462.4 774.3L462.9 774.8L463.5 775.3L464.1 775.8L464.6 776.3L465.2 776.8L465.8 777.3L466.3 777.8L466.8 778.2L467.3 778.7L467.8 779.1L468.3 779.5L468.7 779.9L469.2 780.2L469.6 780.6L470.0 780.9L470.4 781.2L470.8 781.6L471.2 781.9L471.5 782.2L471.9 782.5L472.3 782.8L472.7 783.2L473.1 783.5L473.6 783.9L474.0 784.3L474.4 784.6L474.9 785.0L475.3 785.4L475.7 785.7L476.1 786.1L476.5 786.4L476.9 786.7L477.3 787.0L477.6 787.3L478.0 787.5L478.2 787.7L478.5 787.9L478.8 788.0L479.0 788.2L479.3 788.3L479.5 788.4L479.7 788.5L479.9 788.6L480.2 788.7L480.4 788.8L480.6 788.8L480.8 788.9L480.9 788.9L481.0 789.0L481.1 789.0L481.2 789.0L481.3 789.0L481.4 789.0L481.6 788.9L481.8 788.9L482.1 788.9L482.4 788.9L482.9 788.9L483.4 788.9L484.0 788.9L484.7 788.9L485.4 788.9L486.2 788.9L487.0 788.9L487.9 788.9L488.8 788.9L489.7 788.9L490.6 788.9L491.5 788.9L492.4 788.9L493.3 788.9L494.3 788.9L495.4 788.9L496.5 788.9L497.6 788.9L498.7 788.9L499.8 788.9L500.8 788.9L501.7 788.9L502.6 788.9L503.3 788.9L503.8 788.9" class="cv"/>
<circle cx="401.8" cy="757.2" r="3.7"/>
<circle cx="418.2" cy="755.0" r="3.7"/>
<circle cx="435.1" cy="755.0" r="3.7"/>
<circle cx="452.3" cy="766.0" r="3.7"/>
<circle cx="469.5" cy="778.6" r="3.7"/>
<circle cx="476.0" cy="784.5" r="3.7"/>
<circle cx="480.9" cy="788.1" r="3.7"/>
<text x="383.8" y="779.6" class="ic">IC<tspan class="sub" dy="1.5">50</tspan><tspan dy="-1.5"> = 223±49</tspan></text>
</g>
</svg>
</body>
</html>
